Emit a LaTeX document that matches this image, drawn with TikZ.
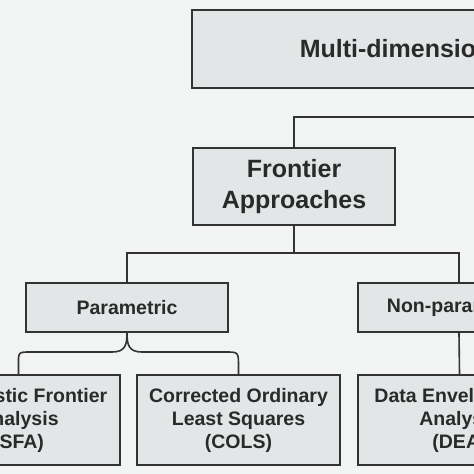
\documentclass[tikz,border=0pt]{standalone}
\usepackage{fontspec}
\setmainfont{Liberation Sans}
\definecolor{bgcol}{HTML}{F2F4F4}
\definecolor{boxcol}{HTML}{E2E6E6}
\definecolor{linecol}{HTML}{333333}
\definecolor{txtcol}{HTML}{2A2A2A}
\tikzset{
	box/.style={draw=linecol, fill=boxcol, line width=2.2pt, inner sep=0pt, align=center, text=txtcol, font=\bfseries},
	bigbox/.style={box, font=\fontsize{25}{31}\selectfont\bfseries},
	smallbox/.style={box, font=\fontsize{19.5}{23}\selectfont\bfseries},
	link/.style={draw=linecol, line width=1.6pt}
}
\begin{document}
\begin{tikzpicture}[x=1pt, y=-1pt]
		% Frame
			\useasboundingbox (0,0) rectangle (474,474);
			\fill [bgcol] (0,0) rectangle (474,474);
			\clip (0,0) rectangle (474,474);
			
		% Boxes
			\node [bigbox, minimum width=428, minimum height=78] (multi) at (406,49) {Multi-dimensional};
			\node [bigbox, minimum width=202, minimum height=77] (frontier) at (294,186.5) {Frontier\\Approaches};
			\node [smallbox, minimum width=202, minimum height=49] (param) at (127,307.5) {Parametric};
			\node [smallbox, minimum width=202, minimum height=49] (nonparam) at (459,307.5) {Non-parametric};
			\node [smallbox, minimum width=203, minimum height=90] (sfa) at (18.5,420) {Stochastic Frontier\\Analysis\\(SFA)};
			\node [smallbox, minimum width=203, minimum height=90] (cols) at (238.5,420) {Corrected Ordinary\\Least Squares\\(COLS)};
			\node [smallbox, minimum width=203, minimum height=90] (dea) at (459.5,420) {Data Envelopment\\Analysis\\(DEA)};
			
		% Links
			\coordinate (offright) at (480,117);
			\coordinate (split) at (294,253);
			\draw [link] (frontier.north) |- (offright);
			\draw [link] (frontier.south) -- (split);
			\draw [link] (split) -| (param.north);
			\draw [link] (split) -| (nonparam.north);
			\draw [link] (nonparam.south) -- (dea.north);
			
		% Brace
			\draw [link] (sfa.north) -- ++(0,-6) .. controls +(0,-17) and +(-17,0) .. (34,352) -- (112,352) .. controls +(13,0) and +(0,12) .. (param.south);
			\draw [link] (cols.north) -- ++(0,-6) .. controls +(0,-17) and +(17,0) .. (222,352) -- (142,352) .. controls +(-13,0) and +(0,12) .. (param.south);
			
		\end{tikzpicture}
\end{document}
